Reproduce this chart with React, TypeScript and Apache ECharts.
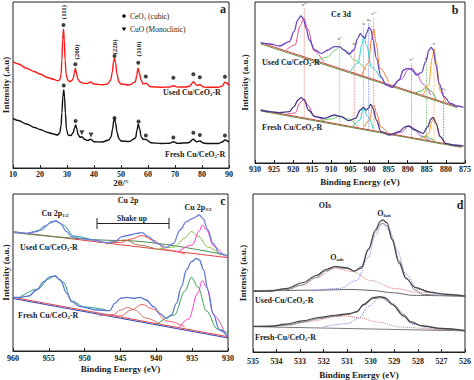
import React, { useEffect, useRef } from 'react';
import * as echarts from 'echarts';

const FONT = '"Liberation Serif", "Times New Roman", serif';

// ---------- Panel a : XRD ----------
const xrdUsed = [[10,106.3],[12,104],[15,99.7],[18,96.3],[20,94],[23,90.3],[25,88.7],[26.5,87.3],[27.3,88],[27.8,93],[28.1,108],[28.4,128],[28.7,138.7],[29.0,128],[29.3,108],[29.7,93],[30.3,88],[31,86.3],[31.8,87.5],[32.3,89.5],[32.7,94.5],[33.1,99.7],[33.5,95],[34.0,89],[34.7,86.3],[36,84.7],[37.5,84.5],[38.7,86],[40,84],[43,83.3],[45,84],[46.2,88],[46.8,96],[47.2,106],[47.6,109.7],[48.0,105],[48.5,94],[49.2,86],[50,84],[53,83],[55.3,86],[55.8,92],[56.3,99.7],[56.8,95],[57.4,88],[58.2,84],[59.2,84.7],[61,81.3],[65,80.7],[68,81],[69.4,82.3],[71,80.9],[74,81],[75.5,82],[76.8,86.3],[78,82.7],[79.2,83.3],[80.5,81],[82,80.7],[86,80.7],[87.5,82],[88.5,85.7],[90,82.7]];
const xrdFresh = [[10,49.7],[12,47.5],[15,44],[18,40.5],[20,38.5],[23,35.5],[25,34],[26.5,33],[27.3,35],[27.8,42],[28.1,55],[28.5,72],[28.8,78],[29.1,71],[29.4,55],[29.8,39],[30.4,33],[31.5,32.5],[32.3,35.5],[32.8,40],[33.2,43],[33.6,39.5],[34.1,33.5],[34.8,30.7],[35.5,31.3],[36.5,28.7],[37.7,27.5],[38.7,28.7],[40,26.3],[43,26],[45.5,28],[46.3,31],[46.9,39],[47.3,47],[47.6,49.7],[48.0,45],[48.5,36],[49.2,29.5],[50,27],[53,26.5],[55.4,30],[55.9,37.5],[56.4,44],[56.9,39],[57.5,31],[58.2,28.7],[59.2,28.5],[61,25.3],[65,24.5],[68,24.7],[69.4,26.3],[71,24.6],[75,25.3],[76.8,28.7],[78,26.3],[79.2,27],[80.5,25],[82,24.5],[86,24.5],[87.5,26],[88.5,28],[90,26]];
const ceo2UsedMarks = [[28.7,143],[33.1,103.7],[47.6,112],[56.4,105.3],[59.2,91.5],[69.4,90.3],[76.8,93.7],[79.2,90.7],[88.5,91.3]];
const ceo2FreshMarks = [[28.8,82.5],[33.2,47],[47.6,50],[56.5,46.5],[59.2,32.5],[69.4,30.5],[76.8,35.3],[79.2,33],[88.5,32.5]];
const cuoFreshMarks = [[35.5,35.3],[38.9,33]];

// ---------- Panel b : Ce 3d ----------
const ceUsed = [[928.5,120.3],[926.1,119],[923.6,117],[921.0,121.3],[919.8,131.3],[918.8,143],[918.0,147],[917.4,144.7],[916.6,134.7],[915.8,123],[914.3,113],[912.6,109.7],[910.9,113],[909.2,116.3],[907.9,116.3],[906.7,113],[905.4,109],[904.1,113],[903.1,124.7],[902.4,129.7],[901.8,126.3],[901.2,124.7],[900.8,129.7],[900.1,135.7],[899.6,133],[899.1,123],[898.2,104.7],[897.0,86.3],[895.7,78],[894.0,75.7],[892.3,83],[891.1,93],[890.0,94.7],[889.0,93.7],[887.7,88],[886.4,90.3],[885.3,101.3],[884.4,113],[883.9,115.7],[883.3,113],[882.6,98],[881.8,79.7],[880.5,66.3],[878.8,59.7],[877.1,57],[875.4,55.7]];
const ceFresh = [[928.5,53],[926.1,51.3],[923.6,50.3],[921.0,51.3],[919.8,56.3],[918.7,63],[918.0,65.3],[917.1,63],[916.0,53],[914.3,46.3],[911.8,44.7],[909.2,48],[907.5,46.3],[905.4,42.3],[903.7,44.7],[902.4,53],[901.6,55.7],[900.9,53],[900.3,54.7],[899.7,58.7],[899.1,54.7],[898.2,43],[897.0,31.3],[894.8,28],[892.3,31.3],[890.6,36.3],[889.8,37],[888.1,33],[886.0,29.7],[884.7,36.3],[884.0,43.7],[883.4,45.7],[882.6,39.7],[881.5,26.3],[880.1,19.7],[878.0,18],[875.4,17]];
const ceBgUsed = [[928.5,120.3],[877,56.3]];
const ceBgUsed2 = [[928.5,119],[877,55.3]];
const ceBgFresh = [[928.5,53],[876,16.3]];
const ceBgFresh2 = [[928.5,52],[876,15.6]];
const ceUsedU3 = [[922,112.5],[919.5,118],[918.2,137],[917.2,145],[916.2,134],[914.5,112],[912,101]];
const ceUsedU2 = [[914,102],[911,106],[909,113],[907.8,116],[906,112],[904,103],[901,93]];
const ceUsedU = [[905,91.5],[903,100],[902,118],[901.5,127],[900.8,118],[899.5,96],[897,84]];
const ceUsedV3 = [[902,88],[900.3,100],[899.4,125],[898.9,134],[898.3,120],[897.3,95],[895,81]];
const ceUsedV2 = [[894,77],[891.5,84],[890,93],[889,95],[887.8,90],[886,79],[884,68]];
const ceUsedV1 = [[888,70],[886.5,72],[885.2,76],[884,72],[882.5,63]];
const ceUsedV = [[886,67],[884.5,78],[883.6,105],[883.1,114],[882.5,100],[881.5,72],[880,60]];
const ceFreshU3 = [[922,48.5],[919.5,50],[918.2,60],[917.2,64],[916.2,58],[914.5,47],[912,42]];
const ceFreshU2 = [[913,42],[910,44],[907.8,47],[905.5,44],[903,36]];
const ceFreshU = [[904.5,36],[902.5,43],[901.6,55],[900.6,47],[899,34]];
const ceFreshV3 = [[901.5,36],[900,43],[899.2,56],[898.8,58],[898.2,50],[897,36],[895,28]];
const ceFreshV2 = [[894,28],[891.5,31],[889.8,37],[888.5,35],[886.5,27],[884,21]];
const ceFreshV1 = [[887,24],[885.2,27],[883.8,24],[882.5,20]];
const ceFreshV = [[886,23],[884.5,30],[883.6,42],[883.2,45.5],[882.6,41],[881.6,27],[880,19]];
const ceLineEnergy = [917.1, 907.8, 904.0, 901.6, 900.2, 898.9, 889.0, 885.1, 883.1, 880.6];
const ceLineTop = [155, 121, 116, 136, 140, 146, 100, 101, 116, 71];
const ceLineBottom = [45, 38, 36, 34, 33, 32, 25, 23, 21, 19];
const ceLineName = ["u'''", "u''", "u'", "u", "u\u2080", "v'''", "v''", "v'", "v", "v\u2080"];
const ceLineColor = ['#e05a5a','#4cbf4c','#e05a5a','#2cc0c0','#4060d0','#e05a5a','#c04cc0','#4cb04c','#f0a030','#4060d0'];

// ---------- Panel c : Cu 2p ----------
const cuUsed = [[960,119.3],[958.1,117.7],[956.7,119.3],[955.5,125],[954.6,129.3],[954.0,130],[953.4,127.7],[952.5,119.3],[951.8,114.3],[950.6,112.7],[948.8,111],[946.9,108.3],[945.8,109.3],[944.8,114.3],[943.7,116],[942.7,117.7],[942.0,118.3],[941.1,114.3],[940.0,107.7],[938.6,103.7],[937.6,107.7],[936.7,121],[935.8,129.3],[934.9,132.7],[934.0,136],[933.5,132.7],[932.8,121],[932.1,107.7],[931.2,97.7],[930,94.3]];
const cuFresh = [[960,53.7],[959.0,53.7],[957.8,55],[956.7,61],[955.7,69.3],[954.8,74.3],[954.1,75],[953.4,71],[952.5,57.7],[951.8,49.3],[950.6,44.3],[948.3,41],[946.5,40.3],[945.8,47.7],[945.0,52.7],[944.1,53.7],[943.2,52.7],[942.3,53.7],[941.4,51],[940.4,44.3],[939.5,37.7],[938.6,32.7],[937.9,36],[937.2,47.7],[936.5,64.3],[935.8,81],[935.1,89.3],[934.4,92.7],[934.0,91],[933.4,81],[932.8,61],[932.1,37.7],[931.2,21],[930,14.3]];
const cuBgUsed = [[960,119.3],[930,93.3]];
const cuBgUsed2 = [[960,118.5],[945,110.5],[930,95.5]];
const cuBgFresh = [[960,53.7],[930,14.3]];
const cuBgFresh2 = [[960,52.5],[930,13]];
const cuUsedP12 = [[958,117],[956,121],[954.8,128],[954,130],[953,126],[951.5,115],[949,111]];
const cuUsedSat1 = [[948,108.5],[945,108.5],[943.5,112],[942,115.5],[940.5,111],[938.5,101],[936,97]];
const cuUsedSat2 = [[947,107],[944.3,111],[942.5,106],[940,102]];
const cuUsedA = [[940,101.5],[937.5,104],[936,113],[935.1,119.5],[934.2,115],[932.8,104],[931,95]];
const cuUsedB = [[937,99],[935,106],[934,120],[933.6,126],[933,121],[932,105],[930.5,94]];
const cuFreshP12 = [[959,54],[956.5,62],[955,72],[954.2,75],[953,69],[951.8,50],[950,44],[947,41]];
const cuFreshSat1 = [[947,36],[945,35],[943.5,41],[942,46.7],[940.5,42],[938.5,30],[936,24]];
const cuFreshSat2 = [[948,35],[946,36.5],[945,41],[944,43.7],[943,41],[941.5,33],[939.5,27]];
const cuFreshA = [[940,26],[937.5,36],[936,60],[935.1,73.7],[934.2,64],[933,40],[931.5,22],[930,18]];
const cuFreshB = [[937,22],[935.5,32],[934.2,58],[933.6,70.3],[933,64],[932,36],[930.5,19]];

// ---------- Panel d : O 1s ----------
const oUsed = [[535,61.3],[534.3,61.3],[533.6,63.7],[532.9,69.7],[532.3,77],[531.9,83],[531.5,86.3],[531.0,84.7],[530.7,81.3],[530.4,84.7],[530.1,103],[529.8,123],[529.6,131.3],[529.5,133],[529.3,129.7],[529.1,113],[528.8,89.7],[528.5,73.7],[528.1,64.7],[527.5,60.3],[526.8,58],[526,56.3]];
const oUsedFit = [[535,61],[534.3,61.5],[533.6,62.5],[532.9,67.5],[532.3,75],[531.9,81.5],[531.5,85],[531.0,84],[530.7,81.5],[530.4,86],[530.1,104],[529.8,121],[529.6,128.5],[529.5,129.7],[529.3,127],[529.1,115],[528.8,92],[528.5,75],[528.1,62],[527.8,58],[527,57],[526,56]];
const oUsedBg = [[535,61.3],[532,62.3],[530.8,63],[530,62],[529,59.5],[528.2,57],[526,56]];
const oUsedAds = [[535,61.5],[534,62.5],[533,67],[532.3,75],[531.5,84.5],[530.8,81],[530,72],[529,64],[528,60],[526,57]];
const oUsedLatt = [[532.5,61.5],[531.3,64],[530.6,72],[530.1,95],[529.8,118],[529.5,129.5],[529.2,122],[528.9,103],[528.5,78],[528,63],[527,58],[526,56.5]];
const oFresh = [[535,25.7],[534.3,25.7],[533.6,28],[532.9,31.3],[532.2,34.7],[531.5,37],[530.9,38.7],[530.6,40.3],[530.3,48],[529.9,54.7],[529.6,55.7],[529.4,54.7],[529.1,48],[528.6,36.3],[528.3,29.7],[527.8,26.3],[527,23.7],[526,21.3]];
const oFreshFit = [[535,25.5],[534,26],[533.5,27.5],[532.9,30],[532.2,33.5],[531.5,36],[530.9,38],[530.6,41],[530.3,47],[529.9,53.5],[529.6,54.7],[529.3,53],[529,47],[528.6,38],[528.3,31],[527.8,26],[527,23],[526,21.5]];
const oFreshBg = [[535,25.5],[526,21.3]];
const oFreshAds = [[535,25.7],[533.5,27],[532.5,31],[531.5,35.5],[531.1,36.3],[530.5,34.5],[529.7,30],[528.7,25],[527,22.5],[526,22]];
const oFreshLatt = [[532,25.5],[531,28.5],[530.5,34],[530.1,46],[529.6,54.7],[529.1,49],[528.6,36],[528.2,28],[527.5,24],[526,22]];

// ---------- helpers ----------
const line = (i: number, data: number[][], color: string, width = 1, type: any = 'solid', z = 2) => ({
  type: 'line', xAxisIndex: i, yAxisIndex: i, data, symbol: 'none', showSymbol: false,
  smooth: 0.35, smoothMonotone: 'x', silent: true, z,
  lineStyle: { color, width, type },
});

const grids = [
  { left: 13, top: 2, width: 216, height: 166 },
  { left: 255, top: 2, width: 217, height: 161 },
  { left: 13, top: 194, width: 215, height: 157 },
  { left: 253, top: 194, width: 213, height: 159 },
].map(g => ({ ...g, show: true, borderColor: '#222', borderWidth: 1, backgroundColor: 'transparent' }));

const xCfg = [
  { min: 10, max: 90, interval: 10, inverse: false, name: '2\u03b8/\u00b0', nameGap: 10, margin: 2 },
  { min: 875, max: 930, interval: 5, inverse: true, name: 'Binding Energy (eV)', nameGap: 14, margin: 2 },
  { min: 930, max: 960, interval: 5, inverse: true, name: 'Binding Energy (eV)', nameGap: 13, margin: 3 },
  { min: 526, max: 535, interval: 1, inverse: true, name: 'Binding Energy (eV)', nameGap: 18, margin: 5 },
];
const yCfg = [
  { max: 166, name: 'Intensity (.a.u)', gap: 3 },
  { max: 161, name: 'Intensity (a.u.)', gap: 6 },
  { max: 157, name: 'Intensity (a.u.)', gap: 3 },
  { max: 159, name: 'Intensity (a.u.)', gap: 6 },
];

const nameStyle = { fontFamily: FONT, fontWeight: 'bold', fontSize: 9, color: '#222' };

const rich = (size: number, bold = true) => ({
  n: { fontFamily: FONT, fontWeight: bold ? 'bold' : 'normal', fontSize: size, lineHeight: size + 2, fill: '#222', color: '#222' },
  s: { fontFamily: FONT, fontWeight: bold ? 'bold' : 'normal', fontSize: Math.round(size * 0.62), lineHeight: Math.round(size * 0.62), verticalAlign: 'bottom', fill: '#222', color: '#222' },
});
const txt = (x: number, y: number, text: string, size = 8, align = 'left', bold = true, rotation = 0) => ({
  type: 'text', x, y, rotation, z: 100,
  style: { text, rich: rich(size, bold), textAlign: align, textVerticalAlign: 'middle', verticalAlign: 'middle', align, fill: '#222' },
});
const seg = (x1: number, y1: number, x2: number, y2: number) => ({
  type: 'line', z: 100, shape: { x1, y1, x2, y2 }, style: { stroke: '#222', lineWidth: 1 },
});

export default function App() {
  const ref = useRef<HTMLDivElement>(null);
  useEffect(() => {
    const chart = echarts.init(ref.current!, undefined, { renderer: 'svg' });

    const series: any[] = [
      // a
      line(0, xrdUsed, '#ff1a1a', 1.4),
      line(0, xrdFresh, '#111111', 1.4),
      { type: 'scatter', xAxisIndex: 0, yAxisIndex: 0, data: ceo2UsedMarks, symbol: 'circle', symbolSize: 4, itemStyle: { color: '#111' }, silent: true, z: 5 },
      { type: 'scatter', xAxisIndex: 0, yAxisIndex: 0, data: ceo2FreshMarks, symbol: 'circle', symbolSize: 4, itemStyle: { color: '#111' }, silent: true, z: 5 },
      { type: 'scatter', xAxisIndex: 0, yAxisIndex: 0, data: cuoFreshMarks, symbol: 'triangle', symbolRotate: 180, symbolSize: 5, itemStyle: { color: '#111' }, silent: true, z: 5 },
      // b
      line(1, ceBgUsed, '#d04040', 1), line(1, ceBgUsed2, '#6a8a3a', 1),
      line(1, ceBgFresh, '#d04040', 1), line(1, ceBgFresh2, '#6a8a3a', 1),
      line(1, ceUsedU3, '#e0508a', 1), line(1, ceUsedU2, '#66d066', 1), line(1, ceUsedU, '#30d0d0', 1),
      line(1, ceUsedV3, '#ff7a30', 1), line(1, ceUsedV2, '#c050d0', 1), line(1, ceUsedV1, '#50b050', 1), line(1, ceUsedV, '#ffa020', 1),
      line(1, ceFreshU3, '#e0508a', 1), line(1, ceFreshU2, '#66d066', 1), line(1, ceFreshU, '#30d0d0', 1),
      line(1, ceFreshV3, '#ff7a30', 1), line(1, ceFreshV2, '#c050d0', 1), line(1, ceFreshV1, '#50b050', 1), line(1, ceFreshV, '#ffa020', 1),
      ...ceLineEnergy.map((e, i) => line(1, [[e, ceLineBottom[i]], [e, ceLineTop[i]]], ceLineColor[i], 0.8, 'dotted', 1)),
      line(1, ceUsed, '#6a48c0', 1.3, 'solid', 4),
      line(1, ceFresh, '#4a3a8a', 1.3, 'solid', 4),
      // c
      line(2, cuBgUsed, '#e04040', 1), line(2, cuBgUsed2, '#4a8a4a', 1),
      line(2, cuBgFresh, '#e04040', 1), line(2, cuBgFresh2, '#3040b0', 1),
      line(2, cuUsedP12, '#2a9a8a', 1), line(2, cuUsedSat1, '#ff5050', 1), line(2, cuUsedSat2, '#b07050', 1),
      line(2, cuUsedA, '#88bb44', 1), line(2, cuUsedB, '#ff40c8', 1),
      line(2, cuFreshP12, '#2a9a8a', 1), line(2, cuFreshSat1, '#ff6060', 1), line(2, cuFreshSat2, '#d07070', 1),
      line(2, cuFreshA, '#3aa050', 1), line(2, cuFreshB, '#ff40c8', 1),
      line(2, cuUsed, '#6b7fe0', 1.3, 'solid', 4),
      line(2, cuFresh, '#5b78d0', 1.3, 'solid', 4),
      // d
      line(3, oUsedBg, '#666', 1), line(3, oFreshBg, '#777', 1),
      line(3, oUsedAds, '#e07a7a', 1, 'dotted'), line(3, oUsedLatt, '#7a7ae0', 1, 'dotted'),
      line(3, oFreshAds, '#e07a7a', 1, 'dotted'), line(3, oFreshLatt, '#7a7ae0', 1, 'dotted'),
      line(3, oUsedFit, '#888', 1, 'solid', 3), line(3, oUsed, '#444', 1.2, 'solid', 4),
      line(3, oFreshFit, '#888', 1, 'solid', 3), line(3, oFresh, '#444', 1.2, 'solid', 4),
    ];

    chart.setOption({
      animation: false,
      backgroundColor: '#fff',
      grid: grids,
      xAxis: xCfg.map((c, i) => ({
        type: 'value', gridIndex: i, min: c.min, max: c.max, interval: c.interval, inverse: c.inverse,
        name: c.name, nameLocation: 'middle', nameGap: c.nameGap, nameTextStyle: nameStyle,
        axisLine: { show: true, onZero: false, lineStyle: { color: '#222', width: 1 } },
        axisTick: { show: true, inside: true, length: 3, lineStyle: { color: '#222' } },
        axisLabel: { margin: c.margin, fontFamily: FONT, fontWeight: 'bold', fontSize: 8, color: '#222' },
        splitLine: { show: false },
      })),
      yAxis: yCfg.map((c, i) => ({
        type: 'value', gridIndex: i, min: 0, max: c.max,
        name: c.name, nameLocation: 'middle', nameGap: c.gap, nameRotate: 90, nameTextStyle: nameStyle,
        axisLine: { show: false }, axisTick: { show: false }, axisLabel: { show: false }, splitLine: { show: false },
      })),
      series,
    });

    const g: any[] = [
      // panel a
      txt(223, 9, '{n|a}', 12, 'center'),
      { type: 'circle', z: 100, shape: { cx: 124, cy: 16, r: 1.8 }, style: { fill: '#111' } },
      { type: 'polygon', z: 100, shape: { points: [[121.6, 27.4], [126.4, 27.4], [124, 31.2]] }, style: { fill: '#111' } },
      txt(130, 16, '{n|CeO}{s|2}{n| (cubic)}', 7.5, 'left', false),
      txt(130, 29, '{n|CuO (Monoclinic)}', 7.5, 'left', false),
      txt(64, 12, '{n|(111)}', 7, 'center', true, Math.PI / 2),
      txt(76.7, 52, '{n|(200)}', 7, 'center', true, Math.PI / 2),
      txt(115.3, 47, '{n|(220)}', 7, 'center', true, Math.PI / 2),
      txt(139, 49, '{n|(310)}', 7, 'center', true, Math.PI / 2),
      txt(163, 92, '{n|Used Cu/CeO}{s|2}{n|-R}', 8),
      txt(165, 154, '{n|Fresh Cu/CeO}{s|2}{n|-R}', 8),
      // panel b
      txt(341, 14, '{n|Ce 3d}', 8, 'center'),
      txt(455, 10, '{n|b}', 12, 'center'),
      txt(262, 62, '{n|Used Cu/CeO}{s|2}{n|-R}', 8),
      txt(262, 127, '{n|Fresh Cu/CeO}{s|2}{n|-R}', 8),
      // panel c
      txt(128, 200, '{n|Cu 2p}', 8, 'center'),
      txt(132, 218, '{n|Shake up}', 7.5, 'center'),
      seg(97, 223.5, 169, 223.5), seg(97, 218, 97, 229), seg(169, 218, 169, 229),
      txt(55, 213, '{n|Cu 2p}{s|1/2}', 8, 'center'),
      txt(198, 207, '{n|Cu 2p}{s|3/2}', 8, 'center'),
      txt(223, 201, '{n|c}', 12, 'center'),
      txt(20, 247, '{n|Used Cu/CeO}{s|2}{n|-R}', 8),
      txt(18, 315, '{n|Fresh Cu/CeO}{s|2}{n|-R}', 8),
      // panel d
      txt(325, 205, '{n|OIs}', 8, 'center'),
      txt(384, 213, '{n|O}{s|latt}', 8, 'center'),
      txt(337, 257, '{n|O}{s|ads}', 8, 'center'),
      txt(460, 205, '{n|d}', 12, 'center'),
      txt(255, 300, '{n|Used-Cu/CeO}{s|2}{n|-R}', 8),
      txt(255, 337, '{n|Fresh-Cu/CeO}{s|2}{n|-R}', 8),
    ];
    ceLineEnergy.forEach((e, i) => {
      const p = chart.convertToPixel({ xAxisIndex: 1, yAxisIndex: 1 } as any, [e, ceLineTop[i]]) as number[];
      g.push({ type: 'text', x: p[0], y: p[1] - 1, z: 100,
        style: { text: ceLineName[i], font: `5px ${FONT}`, fill: '#333', textAlign: 'center', textVerticalAlign: 'bottom', verticalAlign: 'bottom' } });
    });
    chart.setOption({ graphic: g });

    return () => chart.dispose();
  }, []);
  return <div ref={ref} style={{ position: 'absolute', left: 0, top: 0, width: 474, height: 380, background: '#fff' }} />;
}
